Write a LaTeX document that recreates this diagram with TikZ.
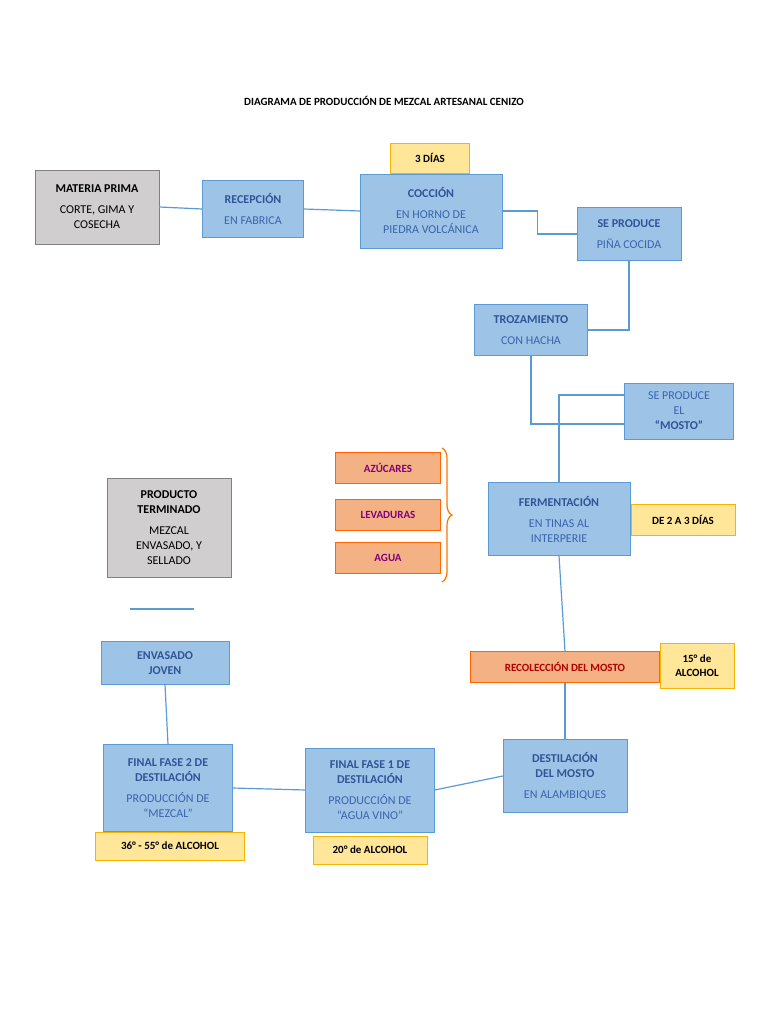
\documentclass[tikz,border=0pt]{standalone}
\usepackage{fontspec}
\setmainfont{Carlito}
\usetikzlibrary{positioning,decorations.pathreplacing}
\definecolor{boxblue}{HTML}{9DC3E6}
\definecolor{edgeblue}{HTML}{5B9BD5}
\definecolor{titleblue}{HTML}{2F5597}
\definecolor{subblue}{HTML}{3B64AD}
\definecolor{salmon}{HTML}{F4B183}
\definecolor{note}{HTML}{FFE699}
\definecolor{noteedge}{HTML}{F4B400}
\definecolor{grayfill}{HTML}{D0CECE}
\tikzset{
  stage/.style = {draw=edgeblue, fill=boxblue, align=center, font=\fontsize{12}{15}\selectfont, text=subblue},
  raw/.style = {draw=gray, fill=grayfill, align=center, font=\fontsize{12}{15}\selectfont},
  extra/.style = {draw=orange!80!red, fill=salmon, font=\fontsize{11}{13}\selectfont\bfseries, text=violet},
  memo/.style = {draw=noteedge, fill=note, align=center, font=\fontsize{11}{14}\selectfont\bfseries},
  link/.style = {draw=edgeblue, line width=1.2pt}
}
\newcommand{\hd}[1]{{\bfseries\color{titleblue}#1}}
\begin{document}
\begin{tikzpicture}[x=1pt,y=-1pt]

    \useasboundingbox (0,0) rectangle (768,1024);

    \node [font=\fontsize{11}{13}\selectfont\bfseries] (title) at (384,101)
    {DIAGRAMA DE PRODUCCIÓN DE MEZCAL ARTESANAL CENIZO};

    %% top row
    \node [memo, minimum width=79pt, minimum height=30pt] (days3) at (430,158) {3 DÍAS};
    \node [raw, minimum width=124pt, minimum height=74pt] (materia) at (97,207)
    {\textbf{MATERIA PRIMA}\\[6pt]CORTE, GIMA Y\\COSECHA};
    \node [stage, minimum width=101pt, minimum height=57pt] (recepcion) at (253,209)
    {\hd{RECEPCIÓN}\\[6pt]EN FABRICA};
    \node [stage, minimum width=142pt, minimum height=74pt] (coccion) at (431,211)
    {\hd{COCCIÓN}\\[6pt]EN HORNO DE\\PIEDRA VOLCÁNICA};
    \node [stage, minimum width=104pt, minimum height=53pt] (pina) at (629,234)
    {\hd{SE PRODUCE}\\[6pt]PIÑA COCIDA};
    \node [stage, minimum width=113pt, minimum height=51pt] (trozo) at (531,330)
    {\hd{TROZAMIENTO}\\[6pt]CON HACHA};
    \node [stage, minimum width=109pt, minimum height=56pt] (mosto) at (679,411)
    {SE PRODUCE\\EL\\\hd{“MOSTO”}};

    %% fermentation
    \node [extra, minimum width=105pt, minimum height=31pt] (azucar) at (388,468) {AZÚCARES};
    \node [extra, minimum width=105pt, minimum height=31pt] (levadura) at (388,515) {LEVADURAS};
    \node [extra, minimum width=105pt, minimum height=31pt] (agua) at (388,558) {AGUA};
    \draw [orange!90!red, line width=1.2pt, decorate, decoration={brace, amplitude=10pt}]
    (442,448) -- (442,582);
    \node [stage, minimum width=142pt, minimum height=73pt] (ferm) at (559,519)
    {\hd{FERMENTACIÓN}\\[6pt]EN TINAS AL\\INTERPERIE};
    \node [memo, minimum width=104pt, minimum height=31pt] (days23) at (683,520) {DE 2 A 3 DÍAS};

    %% final product
    \node [raw, minimum width=124pt, minimum height=99pt] (producto) at (169,528)
    {\textbf{PRODUCTO}\\\textbf{TERMINADO}\\[6pt]MEZCAL\\ENVASADO, Y\\SELLADO};
    \draw [link] (130,609) -- (194,609);

    \node [stage, minimum width=128pt, minimum height=43pt] (envasado) at (165,663)
    {\hd{ENVASADO}\\\hd{JOVEN}};
    \node [extra, minimum width=189pt, minimum height=31pt, text=red!70!black]
    (recoleccion) at (565,667) {RECOLECCIÓN DEL MOSTO};
    \node [memo, minimum width=74pt, minimum height=45pt] (alc15) at (697,666) {15° de\\ALCOHOL};

    %% destilation
    \node [stage, minimum width=124pt, minimum height=73pt] (destila) at (565,776)
    {\hd{DESTILACIÓN}\\\hd{DEL MOSTO}\\[6pt]EN ALAMBIQUES};
    \node [stage, minimum width=129pt, minimum height=84pt] (fase1) at (370,790)
    {\hd{FINAL FASE 1 DE}\\\hd{DESTILACIÓN}\\[6pt]PRODUCCIÓN DE\\“AGUA VINO”};
    \node [memo, minimum width=114pt, minimum height=28pt] (alc20) at (370,850) {20° de ALCOHOL};
    \node [stage, minimum width=129pt, minimum height=87pt] (fase2) at (168,788)
    {\hd{FINAL FASE 2 DE}\\\hd{DESTILACIÓN}\\[6pt]PRODUCCIÓN DE\\“MEZCAL”};
    \node [memo, minimum width=149pt, minimum height=28pt] (alc36) at (170,846) {36° - 55° de ALCOHOL};

    %% connectors
    \draw [link] (materia.east) -- (recepcion.west);
    \draw [link] (recepcion.east) -- (coccion.west);
    \draw [link] (coccion.east) -- ++(35,0) |- (pina.west);
    \draw [link] (pina.south) |- (trozo.east);
    \draw [link] (trozo.south) |- ([yshift=-13pt]mosto.west);
    \draw [link] ([yshift=16pt]mosto.west) -| (ferm.north);
    \draw [link] (ferm.south) -- (recoleccion.north);
    \draw [link] (recoleccion.south) -- (destila.north);
    \draw [link] (destila.west) -- (fase1.east);
    \draw [link] (fase1.west) -- (fase2.east);
    \draw [link] (fase2.north) -- (envasado.south);

\end{tikzpicture}
\end{document}
